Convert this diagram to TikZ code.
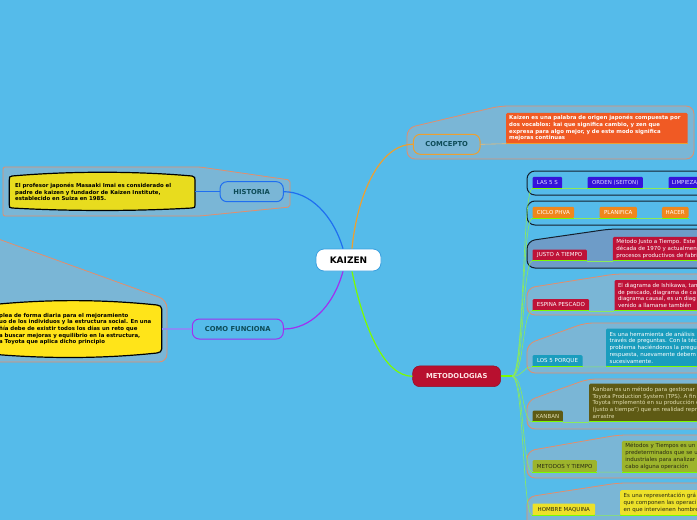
\documentclass[tikz,border=0pt]{standalone}
\usepackage{fontspec}
\setmainfont{DejaVu Sans}
\definecolor{bg}{HTML}{55BBEA}
\definecolor{grp}{HTML}{7AB6D6}
\definecolor{grpdk}{HTML}{6E9CC8}
\definecolor{grpline}{HTML}{E38E6C}
\definecolor{navyline}{HTML}{14202E}
\definecolor{dteal}{HTML}{0D4B57}
\definecolor{corange}{HTML}{EDA030}
\definecolor{cblue}{HTML}{1F6FF0}
\definecolor{cpurple}{HTML}{A030F0}
\definecolor{cgreen}{HTML}{7CFC00}
\definecolor{gthin}{HTML}{8CEB5A}
\definecolor{kaizenline}{HTML}{3AA0E0}
\definecolor{metred}{HTML}{B8102F}
\definecolor{boxorange}{HTML}{F05A24}
\definecolor{ybright}{HTML}{FFE419}
\definecolor{ydull}{HTML}{E8DC1E}
\definecolor{c5s}{HTML}{3514D9}
\definecolor{cphva}{HTML}{F0871C}
\definecolor{crim}{HTML}{BE1238}
\definecolor{cteal}{HTML}{1A9DBE}
\definecolor{colive}{HTML}{5E5A14}
\definecolor{colivetext}{HTML}{E2DEB0}
\definecolor{cmt}{HTML}{9DB42C}
\definecolor{chm}{HTML}{EDE12A}
\definecolor{darktext}{HTML}{2A2A14}
\definecolor{lav}{HTML}{E4DEFF}
\definecolor{purpline}{HTML}{8A8CF5}
\begin{document}
\begin{tikzpicture}[x=1pt,y=-1pt,
 grpshape/.style={fill=grp, draw=grpline, line width=0.8, rounded corners=8},
 grpdark/.style={fill=grpdk, draw=navyline, line width=1, rounded corners=8},
 grpplain/.style={fill=bg, draw=navyline, line width=1, rounded corners=8},
 mainnode/.style={draw, rounded corners=7, line width=1, inner sep=0, font=\fontsize{6.8}{8}\selectfont\bfseries, text=dteal},
 lab/.style={rounded corners=1.2, inner sep=0, anchor=north west, font=\fontsize{5.5}{6.5}\selectfont},
 tbox/.style={rounded corners=1.2, inner sep=0, anchor=north west},
 btxt/.style={anchor=west, inner sep=0, align=left, font=\fontsize{5.5}{6.8}\selectfont},
 bbtxt/.style={anchor=west, inner sep=0, align=left, font=\fontsize{5.4}{6.7}\selectfont\bfseries},
 uline/.style={draw=cgreen, line width=1.1},
 gconn/.style={draw=gthin, line width=0.6},
 ybox/.style={line width=1.2, draw=black}
]
\useasboundingbox (0,0) rectangle (697,520);
\clip (0,0) rectangle (697,520);
\fill[bg] (0,0) rectangle (697,520);

% ---------- group shapes ----------
\filldraw[grpshape] (407,159) -- (407,128) -- (500,106) -- (694,106) -- (694,159) -- cycle;
\filldraw[grpshape, rounded corners=2] (3,167) -- (200,167) -- (290,180) -- (290,207) -- (200,216) -- (3,216) -- cycle;
\filldraw[grpshape] (-10,236) -- (167,300) -- (167,362) -- (-10,362) -- cycle;

\filldraw[grpplain] (527,171) rectangle (720,195);
\filldraw[grpplain] (527,201) rectangle (720,225);
\filldraw[grpdark] (527,268) -- (527,241) -- (610,229) -- (720,229) -- (720,268) -- cycle;
\filldraw[grpshape] (527,315) -- (527,288) -- (615,274) -- (720,274) -- (720,315) -- cycle;
\filldraw[grpshape] (527,373) -- (527,344) -- (585,323) -- (720,323) -- (720,373) -- cycle;
\filldraw[grpshape] (527,429) -- (527,401) -- (588,379) -- (720,379) -- (720,429) -- cycle;
\filldraw[grpshape] (527,478) -- (527,451) -- (618,435) -- (720,435) -- (720,478) -- cycle;
\filldraw[grpshape] (527,535) -- (527,497) -- (618,483) -- (720,483) -- (720,535) -- cycle;

% ---------- yellow boxes ----------
\filldraw[ybox, fill=ydull] (12,176) .. controls (70,171) and (135,171) .. (192,176)
  .. controls (195,176.5) and (195,178) .. (195,180) -- (195,205)
  .. controls (195,207) and (195,208) .. (192,208)
  .. controls (135,211.3) and (70,211.3) .. (12,208)
  .. controls (9.3,208) and (9.3,207) .. (9.3,205) -- (9.3,180)
  .. controls (9.3,177) and (9.3,176.5) .. (12,176) -- cycle;
\coordinate (yb1) at (195,191.7);
\node[bbtxt, text=black] (ytext1) at (15,192) {El profesor japonés Masaaki Imai es considerado el\\padre de kaizen y fundador de Kaizen Institute,\\establecido en Suiza en 1985.};

\filldraw[ybox, fill=ybright] (-20,306) .. controls (40,299) and (100,299) .. (157,305)
  .. controls (160,305.5) and (161.7,306.5) .. (161.7,309) -- (161.7,349)
  .. controls (161.7,351.5) and (160,352.5) .. (157,353)
  .. controls (100,359) and (40,359) .. (-20,353) -- cycle;
\coordinate (yb2) at (161.7,329);
\node[bbtxt, text=black] (ytext2) at (-1,329) {plea de forma diaria para el mejoramiento\\uo de los individuos y la estructura social. En una\\ñía debe de existir todos los días un reto que\\a buscar mejoras y equilibrio en la estructura,\\a Toyota que aplica dicho principio};

% ---------- main nodes ----------
\node[draw=kaizenline, fill=white, rounded corners=8, line width=0.8, minimum width=65, minimum height=22, inner sep=0, font=\fontsize{9}{10}\selectfont\bfseries] (kaizen) at (348.5,260) {KAIZEN};
\node[mainnode, draw=corange, minimum width=66.7, minimum height=20] (con) at (446.7,144.3) {COMCEPTO};
\node[mainnode, draw=cblue, minimum width=63.3, minimum height=20] (hist) at (251.7,191.7) {HISTORIA};
\node[mainnode, draw=cpurple, minimum width=91, minimum height=20] (como) at (237.8,329) {COMO FUNCIONA};
\node[fill=metred, draw=metred!80!black, line width=0.5, rounded corners=7, minimum width=88, minimum height=20.7, inner sep=0, font=\fontsize{6.8}{8}\selectfont\bfseries, text=pink!40] (met) at (456.7,376.3) {METODOLOGIAS};

% concept text box
\node[tbox, fill=boxorange, minimum width=181.3, minimum height=30.6] (kbox) at (506,112.7) {};
\node[bbtxt, text=white] (ktext) at ([xshift=3]kbox.west) {Kaizen es una palabra de origen japonés compuesta por\\dos vocablos: kai que significa cambio, y zen que\\expresa para algo mejor, y de este modo significa\\mejoras continuas};
\draw[draw=corange, line width=1.2] (kbox.south west) -- (kbox.south east);
\draw[draw=corange!70!white, line width=0.6] (con.east) -- (kbox.south west);

% ---------- main connectors ----------
\draw[corange, line width=1.2] ([xshift=3.5]kaizen.north) .. controls (357,195) and (380,144) .. (con.west);
\draw[cblue, line width=1.2] ([xshift=-5.5]kaizen.north) .. controls (333,215) and (310,191.7) .. (hist.east);
\draw[cpurple, line width=1.2] ([xshift=-5.5]kaizen.south) .. controls (333,307) and (310,329) .. (como.east);
\draw[cgreen, line width=1.2] ([xshift=3.5]kaizen.south) .. controls (364,330) and (385,376.3) .. (met.west);
\draw[cblue, line width=0.8] (yb1) -- (hist.west);
\draw[purpline, line width=2] (yb2) -- (como.west);

% ---------- methodology labels ----------
\node[lab, fill=c5s, text=lav, minimum width=29.7, minimum height=11.6] (l5s) at (532.3,176.7) {LAS 5 S};
\node[lab, fill=c5s, text=lav, minimum width=55.4, minimum height=11.6] (lord) at (587.3,176.7) {ORDEN (SEITON)};
\node[lab, fill=c5s, text=lav, minimum width=32, minimum height=11.6] (llim) at (668.3,176.7) {LIMPIEZA};
\node[lab, fill=cphva, text=white, minimum width=41.7, minimum height=11] (lphva) at (532.3,206.7) {CICLO PHVA};
\node[lab, fill=cphva, text=white, minimum width=37.4, minimum height=11] (lpla) at (599.3,206.7) {PLANIFICA};
\node[lab, fill=cphva, text=white, minimum width=26.6, minimum height=11] (lhac) at (661.7,206.7) {HACER};
\node[lab, fill=crim, text=white, minimum width=54.4, minimum height=11.2] (ljit) at (532.3,249.3) {JUSTO A TIEMPO};
\node[lab, fill=crim, text=white, minimum width=56.7, minimum height=11.5] (lesp) at (532.3,299) {ESPINA PESCADO};
\node[lab, fill=cteal, text=white, minimum width=50, minimum height=11.5] (l5p) at (532.3,355) {LOS 5 PORQUE};
\node[lab, fill=colive, text=colivetext, minimum width=30.4, minimum height=11] (lkan) at (532.3,410.5) {KANBAN};
\node[lab, fill=cmt, text=darktext, minimum width=64.4, minimum height=11.7] (lmt) at (532.3,460) {METODOS Y TIEMPO};
\node[lab, fill=chm, text=darktext, minimum width=62.7, minimum height=11.7] (lhm) at (532.3,503.3) {HOMBRE MAQUINA};

% ---------- methodology text boxes ----------
\node[tbox, fill=crim, minimum width=100, minimum height=23.8] (bjit) at (612.7,236.7) {};
\node[btxt, text=white] (tjit) at ([xshift=3.5]bjit.west) {Método Justo a Tiempo. Este\\década de 1970 y actualment\\procesos productivos de fabri};
\node[tbox, fill=crim, minimum width=100, minimum height=30.5] (besp) at (614.3,280) {};
\node[btxt, text=white] (tesp) at ([xshift=3.5]besp.west) {El diagrama de Ishikawa, tam\\de pescado, diagrama de ca\\diagrama causal, es un diag\\venido a llamarse también};
\node[tbox, fill=cteal, minimum width=100, minimum height=38.2] (b5p) at (606,328.3) {};
\node[btxt, text=white] (t5p) at ([xshift=3.5]b5p.west) {Es una herramienta de análisis\\través de preguntas. Con la téc\\problema haciéndonos la pregu\\respuesta, nuevamente debem\\sucesivamente.};
\node[tbox, fill=colive, minimum width=120, minimum height=38] (bkan) at (589,383.5) {};
\node[btxt, text=colivetext] (tkan) at ([xshift=3.5]bkan.west) {Kanban es un método para gestionar\\Toyota Production System (TPS). A fin\\Toyota implementó en su producción e\\(justo a tiempo") que en realidad repr\\arrastre};
\node[tbox, fill=cmt, minimum width=100, minimum height=31] (bmt) at (621.7,440.7) {};
\node[btxt, text=darktext] (tmt) at ([xshift=3.5]bmt.west) {Métodos y Tiempos es un\\predeterminados que se u\\industriales para analizar\\cabo alguna operación};
\node[tbox, fill=chm, minimum width=100, minimum height=25] (bhm) at (620,490) {};
\node[btxt, text=darktext] (thm) at ([xshift=3.5]bhm.west) {Es una representación grá\\que componen las operaci\\en que intervienen hombre};

% ---------- green fan ----------
\coordinate (fan) at (512,376.3);
\draw[cgreen, line width=2] (met.east) -- (fan);
\foreach \n in {l5s,lphva,ljit,lesp,l5p,lkan,lmt,lhm}{
  \draw[gconn] (fan) .. controls +(12,0) and +(-10,0) .. (\n.south west);
}
% underlines and sibling links
\foreach \n in {l5s,lord,llim,lphva,lpla,lhac,ljit,lesp,l5p,lkan,lmt,lhm,bjit,besp,b5p,bkan,bmt,bhm}{
  \draw[uline] (\n.south west) -- (\n.south east);
}
\draw[gconn] (l5s.south east) -- (lord.south west);
\draw[gconn] (lord.south east) -- (llim.south west);
\draw[gconn] (lphva.south east) -- (lpla.south west);
\draw[gconn] (lpla.south east) -- (lhac.south west);
\draw[gconn] (ljit.south east) -- (bjit.south west);
\draw[gconn] (lesp.south east) -- (besp.south west);
\draw[gconn] (l5p.south east) -- (b5p.south west);
\draw[gconn] (lkan.south east) -- (bkan.south west);
\draw[gconn] (lmt.south east) -- (bmt.south west);
\draw[gconn] (lhm.south east) -- (bhm.south west);
\end{tikzpicture}
\end{document}
